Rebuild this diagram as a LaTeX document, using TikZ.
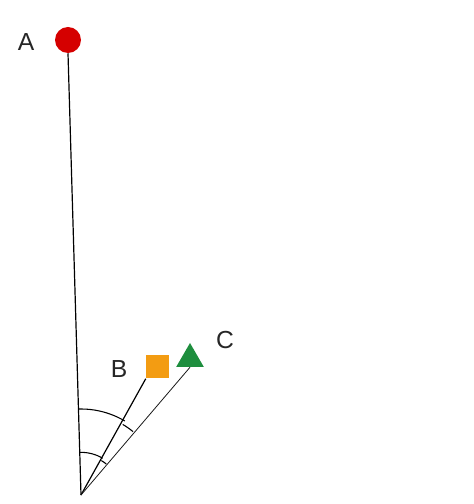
\documentclass[tikz,border=0pt]{standalone}
\usepackage{fontspec}
\setmainfont{Liberation Sans}
\usetikzlibrary{shapes.geometric}
\definecolor{redA}{HTML}{D50000}
\definecolor{orangeB}{HTML}{F39C12}
\definecolor{greenC}{HTML}{1E8E3E}
\tikzset{
  lbl/.style={font=\fontsize{18.5}{20}\selectfont, text=black!85, inner sep=0pt},
  ray/.style={draw=black, line width=0.9pt},
  thinray/.style={draw=black!90, line width=0.6pt},
  anglearc/.style={draw=black, line width=0.8pt},
}
\begin{document}
\begin{tikzpicture}[x=0.75pt,y=0.75pt]
\useasboundingbox (0,0) rectangle (474,504);
\coordinate (O) at (81,9);
\node[circle, fill=redA, minimum size=19.5pt, inner sep=0pt] (dotA) at (68,464) {};
\node[rectangle, fill=orangeB, minimum size=17.25pt, inner sep=0pt] (sqB) at (157.5,137) {};
\node[regular polygon, regular polygon sides=3, fill=greenC, minimum size=24pt, inner sep=0pt] (triC) at (190,145) {};
\node[lbl] (labA) at (26,462) {A};
\node[lbl] (labB) at (119,135) {B};
\node[lbl] (labC) at (225,164) {C};
\draw[ray] (O) -- (dotA.south);
\draw[ray] (O) -- (sqB.south west);
\draw[thinray] (O) -- (triC.side 2);
\draw[anglearc] (O) ++(91.64:64.5pt) arc[start angle=91.64, end angle=59.4, radius=64.5pt];
\draw[anglearc] (O) ++(59.4:61.5pt) arc[start angle=59.4, end angle=50.6, radius=61.5pt];
\draw[anglearc] (O) ++(91.64:32pt) arc[start angle=91.64, end angle=59.4, radius=32pt];
\draw[anglearc] (O) ++(59.4:30pt) arc[start angle=59.4, end angle=50.6, radius=30pt];
\end{tikzpicture}
\end{document}
